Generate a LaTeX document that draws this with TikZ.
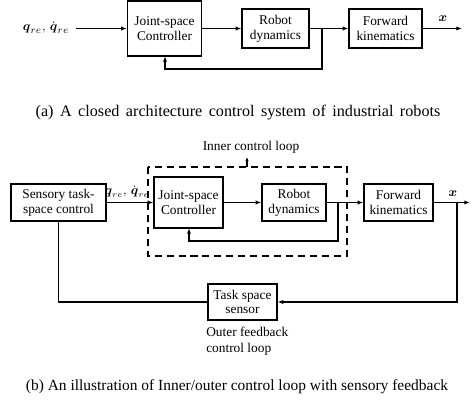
\documentclass[tikz,border=0pt]{standalone}
\usepackage{amsmath,amssymb}
\usepackage{fontspec}
\setmainfont{Liberation Serif}
\usetikzlibrary{arrows.meta,positioning}
\begin{document}
\begin{tikzpicture}[x=0.025cm,y=-0.025cm,
  blk/.style={draw,line width=0.9pt,inner sep=0pt,font=\fontsize{9.5}{10.5}\selectfont,align=center},
  ln/.style={line width=0.9pt},
  arr/.style={line width=0.9pt,-{Latex[length=4pt,width=3pt]}},
  lbl/.style={font=\fontsize{9.5}{11}\selectfont,inner sep=0pt},
  captext/.style={font=\fontsize{11}{13}\selectfont,inner sep=0pt}]
\useasboundingbox (0,0) rectangle (474,419);
% ---------------- (a) ----------------
\node[blk,minimum width=74*0.025cm,minimum height=55*0.025cm] (jc) at (164.5,28.5) {Joint-space\\Controller};
\node[blk,minimum width=67*0.025cm,minimum height=39*0.025cm] (rd) at (275.5,28.5) {Robot\\dynamics};
\node[blk,minimum width=73*0.025cm,minimum height=39*0.025cm] (fk) at (385.5,28.5) {Forward\\kinematics};
\node[lbl] (qa) at (46,28) {$\boldsymbol{q}_{re},\,\dot{\boldsymbol{q}}_{re}$};
\coordinate (ina) at (76,28.5);
\coordinate (outa) at (462,28.5);
\coordinate (bra) at (322,28.5);
\node[lbl] (xa) at (443,19) {$\boldsymbol{x}$};
\draw[arr] (ina) -- (jc.west |- ina);
\draw[arr] (jc.east |- rd.west) -- (rd.west);
\draw[arr] (rd.east) -- (fk.west);
\draw[arr] (fk.east) -- (outa);
\draw[arr] (bra) -- (322,69) -| (165,56);
\node[captext,font=\fontsize{11.5}{13}\selectfont] (capa) at (238,113) {\spaceskip=4.6pt (a) A closed architecture control system of industrial robots};
% ---------------- (b) ----------------
\node[lbl] (inner) at (251,147) {Inner control loop};
\draw[line width=0.9pt,dash pattern=on 5pt off 3.5pt] (148,167) rectangle (347,256);
\coordinate (dtop) at (247,167);
\draw[ln,-{Latex[length=3pt,width=2.5pt]}] (dtop) -- (247,157);
\node[blk,minimum width=95*0.025cm,minimum height=37*0.025cm] (sc) at (58.5,202.5) {Sensory task-\\space control};
\node[blk,minimum width=69*0.025cm,minimum height=51*0.025cm] (jcb) at (188.5,202.5) {Joint-space\\Controller};
\node[blk,minimum width=64*0.025cm,minimum height=37*0.025cm] (rdb) at (294,202.5) {Robot\\dynamics};
\node[blk,minimum width=69*0.025cm,minimum height=37*0.025cm] (fkb) at (398.5,202.5) {Forward\\kinematics};
\node[blk,minimum width=69*0.025cm,minimum height=36*0.025cm] (ts) at (242.5,302) {Task space\\sensor};
\node[lbl,font=\fontsize{9}{11}\selectfont] (qb) at (127,192) {$\boldsymbol{q}_{re},\,\dot{\boldsymbol{q}}_{re}$};
\node[lbl] (xb) at (453,194) {$\boldsymbol{x}$};
\coordinate (outb) at (470,202.5);
\coordinate (brb) at (457,202.5);
\draw[arr] (sc.east) -- (jcb.west);
\draw[arr] (jcb.east) -- (rdb.west);
\draw[arr] (rdb.east) -- (fkb.west);
\draw[arr] (fkb.east) -- (outb);
\draw[arr] (338,202.5) -- (338,241) -| (189,228);
\draw[arr] (brb) |- (ts.east);
\draw[ln] (ts.west) -| (sc.south);
\node[lbl,align=left,anchor=north west] (outer) at (206,327) {Outer feedback\\control loop};
\node[captext] (capb) at (237,387) {(b) An illustration of Inner/outer control loop with sensory feedback};
\end{tikzpicture}
\end{document}
